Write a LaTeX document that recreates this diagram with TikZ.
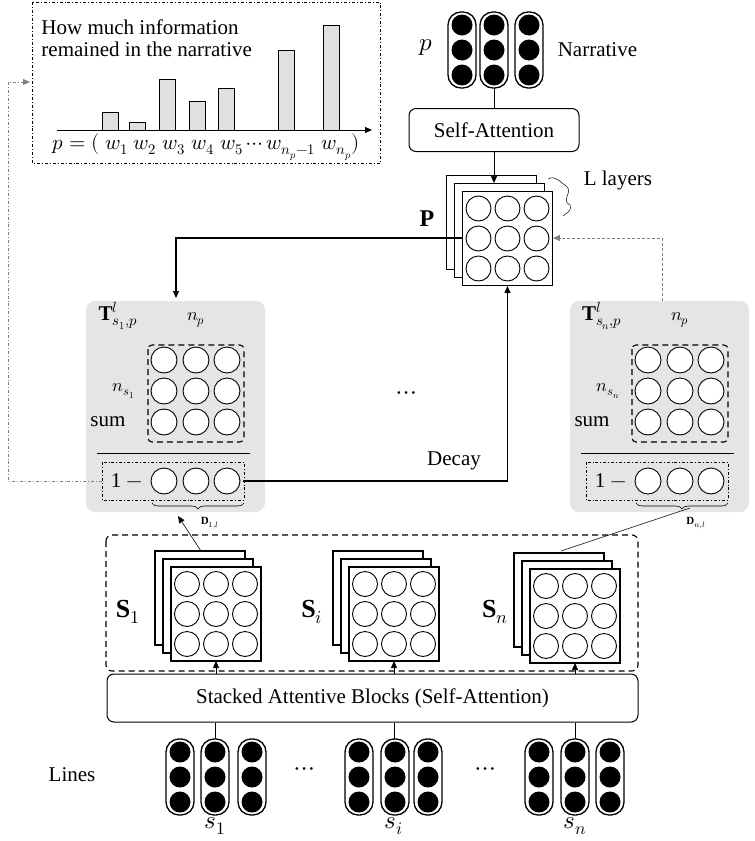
\documentclass[tikz,border=0pt]{standalone}
\usepackage{unicode-math}
\setmainfont{Liberation Serif}
\setmathfont{Latin Modern Math}
\usetikzlibrary{arrows.meta,decorations.pathreplacing}
\begin{document}
\begin{tikzpicture}[x=1pt,y=-1pt,line width=0.9pt,
  font=\fontsize{21}{24}\selectfont,
  arr/.style={-{Triangle[length=7pt,width=6pt]}},
  box/.style={draw,rounded corners=7pt,line width=1pt,inner sep=0pt},
  dots/.style={font=\fontsize{26}{26}\selectfont\bfseries},
  dsh/.style={dash pattern=on 6pt off 4pt},
  pics/stackmat/.style={code={
    \foreach \d in {16,8,0}{\draw[fill=white,line width=1.2pt] (-45-\d,-47-\d) rectangle (45-\d,47-\d);}
    \foreach \i in {-1,0,1}{\foreach \j in {-1,0,1}{\draw (\i*29,\j*30) circle (12.5);}}
  }},
  pics/pill/.style={code={
    \draw[line width=1.3pt,fill=white,rounded corners=13pt] (-14,-38) rectangle (14,38);
    \foreach \j in {-25,0,25}{\fill (0,\j) circle (10.5);}
  }},
  pics/tmat/.style={code={
    \fill[black!10,rounded corners=9pt] (-85,-105) rectangle (94,106);
    \draw[dsh,rounded corners=4pt,line width=1.1pt] (-23,-61) rectangle (73,36);
    \foreach \i in {-7,25,56}{\foreach \j in {-46,-15,16}{\draw[fill=white] (\i,\j) circle (13);}}
    \draw[line width=0.6pt] (-74,47) -- (79,47);
    \draw[dash dot,line width=0.6pt] (-69,56) rectangle (73,94);
    \node at (-44,75) {1 $-$};
    \foreach \i in {-7,25,56}{\draw[fill=white] (\i,75) circle (13);}
    \draw[decorate,decoration={brace,mirror,amplitude=6pt},line width=0.6pt] (-19,97) -- (73,97);
    \node[font=\fontsize{18}{20}\selectfont] at (25,-86) {$n_{p}$};
  }}]
\useasboundingbox (0,0) rectangle (755,841);

% top chart
\draw[dash dot,line width=0.7pt] (32,2) rectangle (380,163);
\node[anchor=west,align=left,inner sep=0pt] (info) at (41,38) {How much information\\[-2pt]remained in the narrative};
\foreach \a/\b/\t in {102/118/112,129/145/122,159/175/79,189/205/101,218/234/88,278/294/50,323/339/25}{
  \draw[fill=black!12,line width=0.7pt] (\a,130) rectangle (\b,\t);}
\coordinate (ax0) at (57,130); \coordinate (ax1) at (372,130);
\draw[arr,line width=0.8pt] (ax0) -- (ax1);
\node (plabel) at (206,147) {$p=(\;w_1\;w_2\;w_3\;w_4\;w_5\cdots w_{n_p-1}\;w_{n_p})$};
\coordinate (chartin) at (30,82);

% narrative
\pic at (462,50) {pill}; \pic at (494,50) {pill}; \pic at (529,50) {pill};
\coordinate (pv) at (494,88);
\node at (426,47) {\fontsize{25}{26}\selectfont$p$};
\node[anchor=west] at (554,50) {Narrative};
\node[box,minimum width=170pt,minimum height=43pt] (sa) at (494,130) {Self-Attention};
\draw[line width=0.6pt] (pv) -- (sa.north);

% P stack
\pic at (507.5,238.5) {stackmat};
\node[inner sep=0pt,minimum width=90pt,minimum height=94pt] (P) at (507.5,238.5) {};
\coordinate (Ptop) at (494,183);
\draw[arr,line width=0.6pt] (sa.south) -- (Ptop);
\node at (427,219) {\fontsize{24}{26}\selectfont\bfseries P};
\draw[line width=0.5pt] (548,179) .. controls (556,175) and (560,182) .. (566,186) .. controls (574,192) and (560,200) .. (570,205) .. controls (572,212) and (566,213) .. (563,216);
\node[anchor=west] at (580,180) {L layers};

% T boxes
\pic at (171,406) {tmat};
\node[inner sep=1pt] at (118,316) {$\mathbf{T}^{l}_{s_1,p}$};
\node[font=\fontsize{18}{20}\selectfont] at (124,391) {$n_{s_1}$};
\node at (108,422) {sum};
\node[font=\fontsize{11}{12}\selectfont] (D1) at (210,523) {$\mathbf{D}_{1,l}$};
\pic at (655,406) {tmat};
\node[inner sep=1pt] at (602,316) {$\mathbf{T}^{l}_{s_n,p}$};
\node[font=\fontsize{18}{20}\selectfont] at (608,391) {$n_{s_n}$};
\node at (592,422) {sum};
\node[font=\fontsize{11}{12}\selectfont] (Dn) at (696,523) {$\mathbf{D}_{n,l}$};
\coordinate (T1top) at (176,298);
\coordinate (T1out) at (243,481);
\coordinate (T1left) at (102,481);
\coordinate (Tntop) at (662,301);
\coordinate (D1tip) at (178,516);
\coordinate (Dntip) at (690,508);
\node[dots] at (407,396) {$\cdots$};
\node at (454,461) {Decay};

% connectors P/T
\draw[arr,line width=1.1pt] (P.west |- 0,238) -| (T1top);
\draw[arr,line width=1.1pt] (T1out) -| (P.south);
\draw[arr,densely dashed,gray,line width=0.8pt] (Tntop) |- (P.east |- 0,238);
\draw[arr,dash dot,gray,line width=0.8pt] (T1left) -| (8,82) -- (chartin);

% S stacks
\draw[dsh,rounded corners=6pt,line width=1.1pt] (106,535) rectangle (638,671);
\pic at (216,614) {stackmat};
\pic at (394,614) {stackmat};
\pic at (575,616) {stackmat};
\node at (128,612) {\fontsize{26}{28}\selectfont$\mathbf{S}_1$};
\node at (312,612) {\fontsize{26}{28}\selectfont$\mathbf{S}_i$};
\node at (495,612) {\fontsize{26}{28}\selectfont$\mathbf{S}_n$};
\coordinate (S1top) at (201,551);
\coordinate (Sntop) at (561,551);
\draw[arr,line width=0.6pt] (S1top) -- (D1tip);
\draw[line width=0.6pt] (Sntop) -- (Dntip);

\node[box,minimum width=531pt,minimum height=48pt] (sab) at (372.5,698) {Stacked Attentive Blocks (Self-Attention)};
\foreach \x/\t in {216/661,394/661,575/663}{
  \draw[arr,line width=0.6pt] (sab.north -| \x,0) -- (\x,\t);}

% lines
\foreach \x in {180,215,252,359,395,428,539,575,610}{\pic at (\x,777) {pill};}
\foreach \x in {215,394,575}{\draw[line width=0.6pt] (sab.south -| \x,0) -- (\x,739);}
\node[dots] at (305,772) {$\cdots$};
\node[dots] at (486,772) {$\cdots$};
\node at (72,775) {Lines};
\node at (215,826) {\fontsize{25}{26}\selectfont$s_1$};
\node at (394,826) {\fontsize{25}{26}\selectfont$s_i$};
\node at (575,826) {\fontsize{25}{26}\selectfont$s_n$};
\end{tikzpicture}
\end{document}
